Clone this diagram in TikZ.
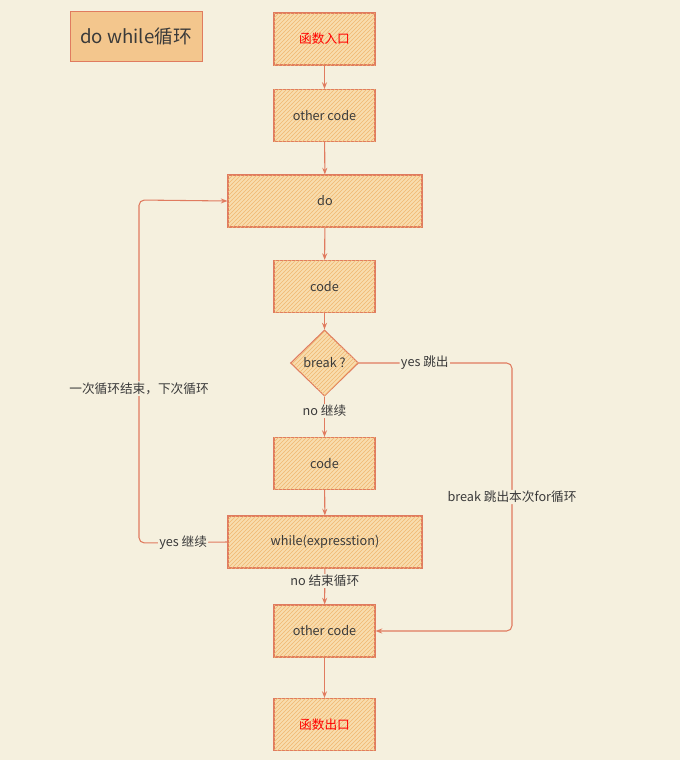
\documentclass[tikz,border=0pt]{standalone}
\usepackage{fontspec}
\setmainfont{Noto Sans CJK SC}
\usetikzlibrary{shapes.geometric,patterns,arrows.meta}
\definecolor{bg}{HTML}{F5F0DE}
\definecolor{bd}{HTML}{E07B5F}
\definecolor{fl}{HTML}{F8DDAE}
\definecolor{ht}{HTML}{F0B870}
\definecolor{tx}{HTML}{3A3A3A}
\begin{document}
\begin{tikzpicture}[x=0.75pt,y=-0.75pt,
  box/.style={draw=bd,thick,fill=fl,postaction={pattern=north east lines,pattern color=ht},
    minimum width=75.75pt,minimum height=39pt,inner sep=0pt,font=\fontsize{9.5}{11}\selectfont,text=tx},
  wide/.style={box,minimum width=145.5pt},
  red/.style={text=red},
  arr/.style={draw=bd,thick,-{Stealth[length=5pt]}},
  lbl/.style={font=\fontsize{9.5}{11}\selectfont,text=tx,fill=bg,inner sep=1pt}]
\fill[bg] (0,0) rectangle (680,760);
\useasboundingbox (0,0) rectangle (680,760);
\node[draw=bd,fill=ht!80,minimum width=99pt,minimum height=37.5pt,inner sep=0pt,font=\fontsize{14}{16}\selectfont,text=tx] (t) at (136,36) {do while循环};
\node[box,red] (in) at (324.5,39) {函数入口};
\node[box] (o1) at (324.5,115.5) {other code};
\node[wide] (do) at (325,201) {do};
\node[box] (c1) at (324.5,286.5) {code};
\node[diamond,aspect=1.03,draw=bd,thick,fill=fl,postaction={pattern=north east lines,pattern color=ht},
  minimum width=51pt,minimum height=49.5pt,inner sep=0pt,font=\fontsize{9.5}{11}\selectfont,text=tx] (br) at (324.5,363) {break ?};
\node[box] (c2) at (324.5,463.5) {code};
\node[wide] (wh) at (325,542) {while(expresstion)};
\node[box] (o2) at (324.5,631) {other code};
\node[box,red] (out) at (324.5,724.5) {函数出口};
\coordinate (r1) at (512,363);
\coordinate (r2) at (512,631);
\coordinate (l1) at (139,543);
\coordinate (l2) at (139,200);
\draw[arr] (in) -- (o1);
\draw[arr] (o1) -- (do);
\draw[arr] (do) -- (c1);
\draw[arr] (c1) -- (br);
\draw[arr] (br) -- node[lbl,pos=0.35]{no 继续} (c2);
\draw[arr] (c2) -- (wh);
\draw[arr] (wh) -- node[lbl,pos=0.35]{no 结束循环} (o2);
\draw[arr] (o2) -- (out);
\draw[arr,rounded corners=4pt] (br.east) -- node[lbl,pos=0.43]{yes 跳出} (r1) -- node[lbl]{break 跳出本次for循环} (r2) -- (o2.east);
\draw[arr,rounded corners=4pt] (wh.west) -- node[lbl,pos=0.5]{yes 继续} (l1) -- node[lbl,pos=0.45]{一次循环结束，下次循环} (l2) -- (do.west);
\end{tikzpicture}
\end{document}
